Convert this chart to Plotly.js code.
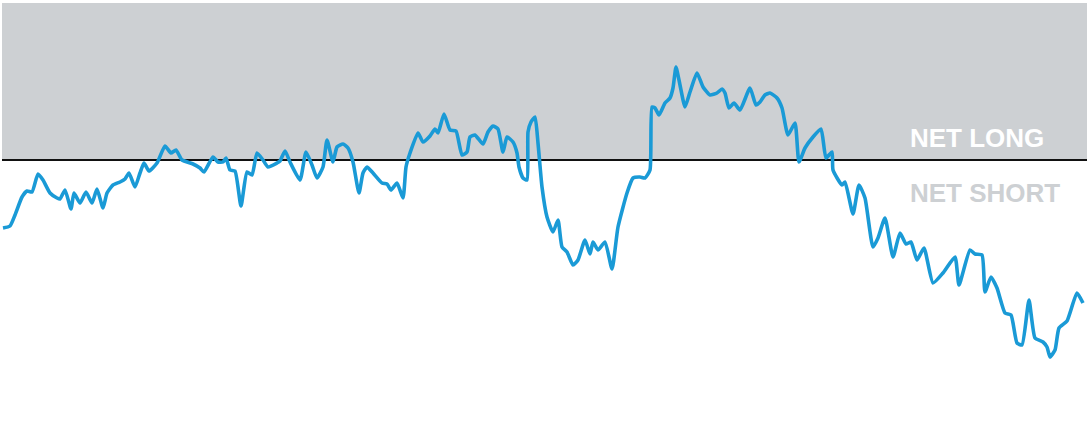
<!DOCTYPE html>
<html>
<head>
<meta charset="utf-8">
<script src="https://cdn.plot.ly/plotly-3.0.1.min.js"></script>
<style>
  html, body { margin: 0; padding: 0; background: #fff; }
  #chart { width: 1087px; height: 425px; }
</style>
</head>
<body>
<div id="chart"></div>
<script>
// positioning, one point per turn of the line
const days = [
    3, 10, 15, 22, 27, 32, 38, 43, 50, 57, 60, 65, 71, 74, 80, 86, 92, 97, 103, 107,
    113, 120, 125, 129, 135, 140, 144, 149, 157, 165, 171, 176, 182, 193, 200, 204, 213, 218, 223, 226,
    230, 235, 241, 247, 252, 257, 263, 268, 277, 280, 285, 290, 300, 306, 312, 317, 323, 327, 333, 337,
    343, 348, 353, 359, 363, 367, 373, 382, 387, 391, 397, 403, 406, 410, 418, 423, 430, 435, 438, 444,
    450, 456, 462, 467, 470, 475, 483, 488, 493, 498, 503, 507, 513, 517, 519, 523, 527, 528, 531, 535,
    538, 542, 547, 553, 558, 562, 567, 573, 578, 585, 590, 593, 598, 605, 612, 618, 627, 633, 640, 645,
    650, 652, 655, 659, 665, 670, 673, 676, 680, 685, 690, 697, 703, 710, 717, 722, 725, 729, 734, 740,
    750, 756, 760, 765, 770, 777, 782, 788, 795, 799, 805, 813, 821, 826, 832, 833, 842, 845, 853, 859,
    865, 873, 878, 885, 893, 900, 906, 911, 917, 924, 933, 943, 955, 959, 970, 975, 982, 985, 991, 997,
    1005, 1011, 1017, 1022, 1029, 1035, 1043, 1047, 1050, 1055, 1059, 1067, 1077, 1083
]
const netPosition = [
    -68, -66, -55, -37, -31, -32, -14, -20, -33, -38, -39, -30, -49, -33, -43, -32, -43, -29, -48, -33,
    -25, -22, -19, -13, -27, -13, -3, -11, -3, 14, 7, 10, 0, -4, -8, -12, 3, -2, -2, 2,
    -10, -11, -46, -12, -15, 7, 0, -7, -3, -1, 9, -2, -20, 8, -5, -18, -7, 20, -2, 13,
    16, 12, -2, -33, -13, -7, -13, -23, -24, -30, -23, -38, -7, 7, 27, 18, 24, 31, 27, 46,
    30, 29, 5, 8, 23, 25, 16, 28, 34, 31, 8, 23, 18, 7, -7, -18, -20, 28, 38, 43,
    17, -27, -57, -72, -60, -87, -92, -105, -100, -80, -94, -82, -90, -82, -109, -67, -33, -18, -17, -18,
    -10, 53, 52, 45, 57, 62, 72, 93, 75, 53, 68, 87, 73, 65, 67, 71, 67, 52, 57, 50,
    72, 55, 58, 65, 67, 62, 52, 25, 37, -2, 12, 23, 31, 2, 8, -10, -25, -22, -54, -25,
    -38, -87, -78, -58, -97, -73, -84, -82, -100, -88, -123, -113, -97, -125, -90, -94, -95, -132, -117, -128,
    -153, -155, -183, -185, -140, -178, -182, -187, -197, -190, -168, -161, -133, -143
]

const lineBlue = '#1a9ad6'
const panelGrey = '#cdd0d3'

const data = [{
    type: 'scatter',
    mode: 'lines',
    x: days,
    y: netPosition,
    line: {color: lineBlue, width: 3.6, shape: 'spline', smoothing: 0.5},
    hoverinfo: 'skip'
}]

const layout = {
    width: 1087,
    height: 425,
    margin: {l: 2, r: 0, t: 3, b: 0},
    paper_bgcolor: '#ffffff',
    plot_bgcolor: '#ffffff',
    showlegend: false,
    xaxis: {range: [2, 1087], visible: false, fixedrange: true},
    yaxis: {range: [-265, 157], visible: false, fixedrange: true},
    shapes: [
        {
            type: 'rect', xref: 'paper', yref: 'y', layer: 'below',
            x0: 0, x1: 1, y0: 0, y1: 157,
            fillcolor: panelGrey, line: {width: 0}
        },
        {
            type: 'line', xref: 'paper', yref: 'y', layer: 'below',
            x0: 0, x1: 1, y0: 0, y1: 0,
            line: {color: '#111111', width: 2}
        }
    ],
    annotations: [
        {
            text: 'NET LONG', xref: 'x', yref: 'y', x: 908, y: 22,
            xanchor: 'left', yanchor: 'middle', showarrow: false,
            font: {family: 'Liberation Sans, Arial, sans-serif', size: 26, color: '#ffffff', weight: 'bold'}
        },
        {
            text: 'NET SHORT', xref: 'x', yref: 'y', x: 908, y: -33,
            xanchor: 'left', yanchor: 'middle', showarrow: false,
            font: {family: 'Liberation Sans, Arial, sans-serif', size: 26, color: panelGrey, weight: 'bold'}
        }
    ]
}

Plotly.newPlot('chart', data, layout, {staticPlot: true, displayModeBar: false})
</script>
</body>
</html>
